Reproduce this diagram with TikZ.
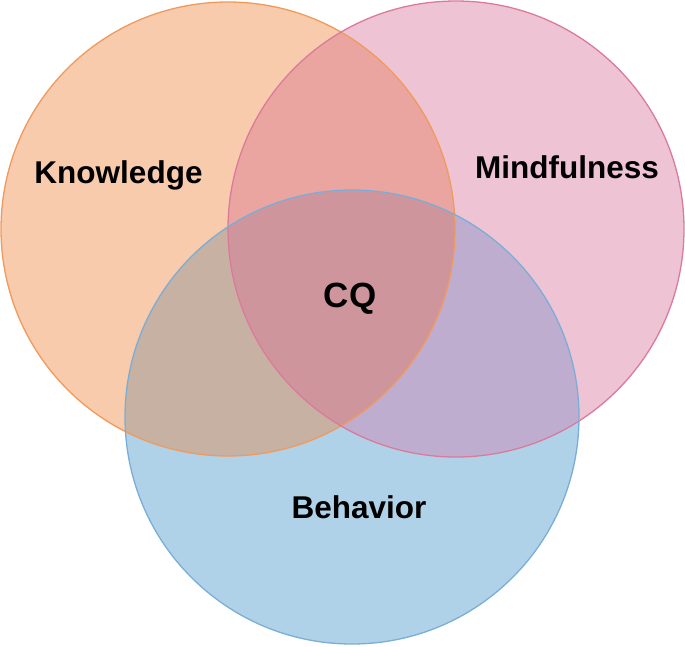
\documentclass[tikz,border=0pt]{standalone}
\usepackage{fontspec}
\setmainfont{Liberation Sans}
\definecolor{kfill}{HTML}{F8CBAD}
\definecolor{mfill}{HTML}{EEC3D3}
\definecolor{bfill}{HTML}{AFD2E9}
\definecolor{kmfill}{HTML}{EBA5A0}
\definecolor{kbfill}{HTML}{C6B1A3}
\definecolor{mbfill}{HTML}{BFADD0}
\definecolor{cqfill}{HTML}{CF959C}
\definecolor{kline}{HTML}{F09A5C}
\definecolor{mline}{HTML}{DC7A9C}
\definecolor{bline}{HTML}{7AAED8}
\tikzset{
  every picture/.style={line width=1.3pt},
  ring/.style={draw=#1},
  lbl/.style={font=\fontsize{31.5}{36}\selectfont\bfseries, anchor=base, inner sep=0pt},
}
\begin{document}
\begin{tikzpicture}[x=1pt, y=-1pt]
  \useasboundingbox (0,0) rectangle (685,646);
  \coordinate (kc) at (228,229);
  \coordinate (mc) at (456,229);
  \coordinate (bc) at (352,417);
  % single sets
  \fill[kfill] (kc) circle (227);
  \fill[mfill] (mc) circle (228);
  \fill[bfill] (bc) circle (227);
  % overlaps
  \begin{scope}
    \clip (kc) circle (227);
    \fill[kmfill] (mc) circle (228);
    \fill[kbfill] (bc) circle (227);
  \end{scope}
  \begin{scope}
    \clip (mc) circle (228);
    \fill[mbfill] (bc) circle (227);
    \clip (kc) circle (227);
    \fill[cqfill] (bc) circle (227);
  \end{scope}
  % outlines
  \draw[ring=kline] (kc) circle (227);
  \draw[ring=mline] (mc) circle (228);
  \draw[ring=bline] (bc) circle (227);
  % labels
  \node[lbl] (know) at (118.5,183) {Knowledge};
  \node[lbl] (mind) at (567,178) {Mindfulness};
  \node[lbl, font=\fontsize{35}{40}\selectfont\bfseries] (cq) at (350,307) {CQ};
  \node[lbl] (beh) at (359,518) {Behavior};
\end{tikzpicture}
\end{document}
